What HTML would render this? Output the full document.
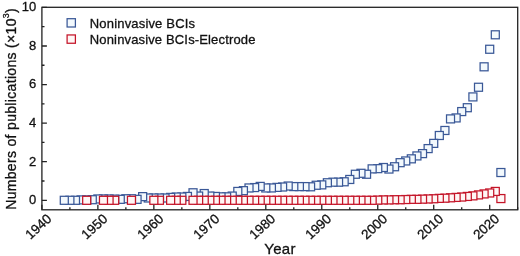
<!DOCTYPE html>
<html><head><meta charset="utf-8"><style>
html,body{margin:0;padding:0;background:#fff;}
body{width:520px;height:256px;overflow:hidden;}
svg{display:block;filter:blur(0.25px);}
</style></head><body>
<svg width="520" height="256" viewBox="0 0 520 256">
<rect x="0" y="0" width="520" height="256" fill="#fff"/>
<g fill="#f3f9fd" stroke="#3a5897" stroke-width="1.25"><rect x="496.89" y="168.52" width="8.0" height="8.0"/><rect x="491.30" y="30.79" width="8.0" height="8.0"/><rect x="485.70" y="45.26" width="8.0" height="8.0"/><rect x="480.10" y="62.81" width="8.0" height="8.0"/><rect x="474.50" y="83.26" width="8.0" height="8.0"/><rect x="468.91" y="92.91" width="8.0" height="8.0"/><rect x="463.31" y="103.71" width="8.0" height="8.0"/><rect x="457.71" y="107.57" width="8.0" height="8.0"/><rect x="452.12" y="113.93" width="8.0" height="8.0"/><rect x="446.52" y="114.90" width="8.0" height="8.0"/><rect x="440.92" y="126.47" width="8.0" height="8.0"/><rect x="435.32" y="131.49" width="8.0" height="8.0"/><rect x="429.72" y="139.39" width="8.0" height="8.0"/><rect x="424.13" y="144.60" width="8.0" height="8.0"/><rect x="418.53" y="149.62" width="8.0" height="8.0"/><rect x="412.93" y="151.93" width="8.0" height="8.0"/><rect x="407.33" y="154.83" width="8.0" height="8.0"/><rect x="401.74" y="156.95" width="8.0" height="8.0"/><rect x="396.14" y="158.68" width="8.0" height="8.0"/><rect x="390.54" y="162.74" width="8.0" height="8.0"/><rect x="384.94" y="165.05" width="8.0" height="8.0"/><rect x="379.35" y="163.51" width="8.0" height="8.0"/><rect x="373.75" y="164.66" width="8.0" height="8.0"/><rect x="368.15" y="164.86" width="8.0" height="8.0"/><rect x="362.56" y="170.26" width="8.0" height="8.0"/><rect x="356.96" y="169.29" width="8.0" height="8.0"/><rect x="351.36" y="170.26" width="8.0" height="8.0"/><rect x="345.76" y="175.47" width="8.0" height="8.0"/><rect x="340.16" y="177.78" width="8.0" height="8.0"/><rect x="334.57" y="178.17" width="8.0" height="8.0"/><rect x="328.97" y="178.17" width="8.0" height="8.0"/><rect x="323.37" y="178.75" width="8.0" height="8.0"/><rect x="317.77" y="180.87" width="8.0" height="8.0"/><rect x="312.18" y="181.25" width="8.0" height="8.0"/><rect x="306.58" y="182.80" width="8.0" height="8.0"/><rect x="300.98" y="182.60" width="8.0" height="8.0"/><rect x="295.38" y="182.60" width="8.0" height="8.0"/><rect x="289.79" y="182.60" width="8.0" height="8.0"/><rect x="284.19" y="182.03" width="8.0" height="8.0"/><rect x="278.59" y="182.99" width="8.0" height="8.0"/><rect x="273.00" y="183.38" width="8.0" height="8.0"/><rect x="267.40" y="183.95" width="8.0" height="8.0"/><rect x="261.80" y="183.95" width="8.0" height="8.0"/><rect x="256.20" y="182.41" width="8.0" height="8.0"/><rect x="250.61" y="183.57" width="8.0" height="8.0"/><rect x="245.01" y="183.95" width="8.0" height="8.0"/><rect x="239.41" y="186.66" width="8.0" height="8.0"/><rect x="233.81" y="187.43" width="8.0" height="8.0"/><rect x="228.22" y="192.06" width="8.0" height="8.0"/><rect x="222.62" y="192.83" width="8.0" height="8.0"/><rect x="217.02" y="192.83" width="8.0" height="8.0"/><rect x="211.42" y="192.44" width="8.0" height="8.0"/><rect x="205.83" y="192.06" width="8.0" height="8.0"/><rect x="200.23" y="189.55" width="8.0" height="8.0"/><rect x="194.63" y="192.06" width="8.0" height="8.0"/><rect x="189.03" y="188.78" width="8.0" height="8.0"/><rect x="183.44" y="192.44" width="8.0" height="8.0"/><rect x="177.84" y="193.02" width="8.0" height="8.0"/><rect x="172.24" y="193.02" width="8.0" height="8.0"/><rect x="166.64" y="193.41" width="8.0" height="8.0"/><rect x="161.05" y="193.99" width="8.0" height="8.0"/><rect x="155.45" y="193.99" width="8.0" height="8.0"/><rect x="149.85" y="193.99" width="8.0" height="8.0"/><rect x="144.25" y="193.99" width="8.0" height="8.0"/><rect x="138.66" y="192.63" width="8.0" height="8.0"/><rect x="133.06" y="195.34" width="8.0" height="8.0"/><rect x="127.46" y="194.76" width="8.0" height="8.0"/><rect x="121.86" y="194.76" width="8.0" height="8.0"/><rect x="116.27" y="195.34" width="8.0" height="8.0"/><rect x="110.67" y="195.14" width="8.0" height="8.0"/><rect x="105.07" y="194.95" width="8.0" height="8.0"/><rect x="99.47" y="194.95" width="8.0" height="8.0"/><rect x="93.88" y="194.95" width="8.0" height="8.0"/><rect x="88.28" y="195.72" width="8.0" height="8.0"/><rect x="82.68" y="195.91" width="8.0" height="8.0"/><rect x="77.08" y="195.91" width="8.0" height="8.0"/><rect x="71.48" y="196.30" width="8.0" height="8.0"/><rect x="65.89" y="196.30" width="8.0" height="8.0"/><rect x="60.29" y="196.30" width="8.0" height="8.0"/></g>
<g fill="#fff6f5" stroke="#c41428" stroke-width="1.25"><rect x="496.89" y="194.56" width="8.0" height="8.0"/><rect x="491.30" y="187.43" width="8.0" height="8.0"/><rect x="485.70" y="188.97" width="8.0" height="8.0"/><rect x="480.10" y="189.93" width="8.0" height="8.0"/><rect x="474.50" y="190.90" width="8.0" height="8.0"/><rect x="468.91" y="191.86" width="8.0" height="8.0"/><rect x="463.31" y="192.44" width="8.0" height="8.0"/><rect x="457.71" y="193.02" width="8.0" height="8.0"/><rect x="452.12" y="193.41" width="8.0" height="8.0"/><rect x="446.52" y="193.79" width="8.0" height="8.0"/><rect x="440.92" y="194.18" width="8.0" height="8.0"/><rect x="435.32" y="194.37" width="8.0" height="8.0"/><rect x="429.72" y="194.76" width="8.0" height="8.0"/><rect x="424.13" y="194.95" width="8.0" height="8.0"/><rect x="418.53" y="195.14" width="8.0" height="8.0"/><rect x="412.93" y="195.34" width="8.0" height="8.0"/><rect x="407.33" y="195.34" width="8.0" height="8.0"/><rect x="401.74" y="195.53" width="8.0" height="8.0"/><rect x="396.14" y="195.72" width="8.0" height="8.0"/><rect x="390.54" y="195.72" width="8.0" height="8.0"/><rect x="384.94" y="195.91" width="8.0" height="8.0"/><rect x="379.35" y="195.91" width="8.0" height="8.0"/><rect x="373.75" y="196.11" width="8.0" height="8.0"/><rect x="368.15" y="196.30" width="8.0" height="8.0"/><rect x="362.56" y="196.30" width="8.0" height="8.0"/><rect x="356.96" y="196.30" width="8.0" height="8.0"/><rect x="351.36" y="196.30" width="8.0" height="8.0"/><rect x="345.76" y="196.30" width="8.0" height="8.0"/><rect x="340.16" y="196.30" width="8.0" height="8.0"/><rect x="334.57" y="196.30" width="8.0" height="8.0"/><rect x="328.97" y="196.30" width="8.0" height="8.0"/><rect x="323.37" y="196.30" width="8.0" height="8.0"/><rect x="317.77" y="196.30" width="8.0" height="8.0"/><rect x="312.18" y="196.30" width="8.0" height="8.0"/><rect x="306.58" y="196.30" width="8.0" height="8.0"/><rect x="300.98" y="196.30" width="8.0" height="8.0"/><rect x="295.38" y="196.30" width="8.0" height="8.0"/><rect x="289.79" y="196.30" width="8.0" height="8.0"/><rect x="284.19" y="196.30" width="8.0" height="8.0"/><rect x="278.59" y="196.30" width="8.0" height="8.0"/><rect x="273.00" y="196.30" width="8.0" height="8.0"/><rect x="267.40" y="196.30" width="8.0" height="8.0"/><rect x="261.80" y="196.30" width="8.0" height="8.0"/><rect x="256.20" y="196.30" width="8.0" height="8.0"/><rect x="250.61" y="196.30" width="8.0" height="8.0"/><rect x="245.01" y="196.30" width="8.0" height="8.0"/><rect x="239.41" y="196.30" width="8.0" height="8.0"/><rect x="233.81" y="196.30" width="8.0" height="8.0"/><rect x="228.22" y="196.30" width="8.0" height="8.0"/><rect x="222.62" y="196.30" width="8.0" height="8.0"/><rect x="217.02" y="196.30" width="8.0" height="8.0"/><rect x="211.42" y="196.30" width="8.0" height="8.0"/><rect x="205.83" y="196.30" width="8.0" height="8.0"/><rect x="200.23" y="196.30" width="8.0" height="8.0"/><rect x="194.63" y="196.30" width="8.0" height="8.0"/><rect x="189.03" y="196.30" width="8.0" height="8.0"/><rect x="177.84" y="196.30" width="8.0" height="8.0"/><rect x="172.24" y="196.30" width="8.0" height="8.0"/><rect x="166.64" y="196.30" width="8.0" height="8.0"/><rect x="155.45" y="196.30" width="8.0" height="8.0"/><rect x="149.85" y="196.30" width="8.0" height="8.0"/><rect x="127.46" y="196.30" width="8.0" height="8.0"/><rect x="110.67" y="196.30" width="8.0" height="8.0"/><rect x="105.07" y="196.30" width="8.0" height="8.0"/><rect x="99.47" y="196.30" width="8.0" height="8.0"/><rect x="82.68" y="196.30" width="8.0" height="8.0"/></g>
<rect x="41.9" y="7.3" width="475.80" height="202.50" fill="none" stroke="#222" stroke-width="1.3"/>
<path d="M41.90 200.30h5.0M41.90 181.01h2.6M41.90 161.72h5.0M41.90 142.43h2.6M41.90 123.14h5.0M41.90 103.85h2.6M41.90 84.56h5.0M41.90 65.27h2.6M41.90 45.98h5.0M41.90 26.69h2.6M41.90 7.40h5.0M41.90 209.80v-5.1M69.89 209.80v-2.6M97.88 209.80v-5.1M125.86 209.80v-2.6M153.85 209.80v-5.1M181.84 209.80v-2.6M209.83 209.80v-5.1M237.81 209.80v-2.6M265.80 209.80v-5.1M293.79 209.80v-2.6M321.77 209.80v-5.1M349.76 209.80v-2.6M377.75 209.80v-5.1M405.74 209.80v-2.6M433.72 209.80v-5.1M461.71 209.80v-2.6M489.70 209.80v-5.1M517.69 209.80v-2.6" stroke="#222" stroke-width="1.3" fill="none"/>
<g font-family="Liberation Sans, Arial, sans-serif" font-size="13" fill="#111" stroke="#111" stroke-width="0.3"><text x="36.2" y="204.10" text-anchor="end">0</text><text x="36.2" y="165.52" text-anchor="end">2</text><text x="36.2" y="126.94" text-anchor="end">4</text><text x="36.2" y="88.36" text-anchor="end">6</text><text x="36.2" y="49.78" text-anchor="end">8</text><text x="36.2" y="11.20" text-anchor="end">10</text></g>
<g font-family="Liberation Sans, Arial, sans-serif" font-size="13.4" fill="#111" stroke="#111" stroke-width="0.3"><text transform="translate(52.40 219.80) rotate(-43)" text-anchor="end">1940</text><text transform="translate(108.38 219.80) rotate(-43)" text-anchor="end">1950</text><text transform="translate(164.35 219.80) rotate(-43)" text-anchor="end">1960</text><text transform="translate(220.33 219.80) rotate(-43)" text-anchor="end">1970</text><text transform="translate(276.30 219.80) rotate(-43)" text-anchor="end">1980</text><text transform="translate(332.27 219.80) rotate(-43)" text-anchor="end">1990</text><text transform="translate(388.25 219.80) rotate(-43)" text-anchor="end">2000</text><text transform="translate(444.22 219.80) rotate(-43)" text-anchor="end">2010</text><text transform="translate(500.20 219.80) rotate(-43)" text-anchor="end">2020</text></g>
<text x="264.3" y="253.6" textLength="31.2" lengthAdjust="spacing" font-family="Liberation Sans, Arial, sans-serif" font-size="15" fill="#111" stroke="#111" stroke-width="0.3">Year</text>
<text transform="translate(15.7 209.8) rotate(-90)" font-family="Liberation Sans, Arial, sans-serif" font-size="14" letter-spacing="0.325" fill="#111" stroke="#111" stroke-width="0.3">Numbers of publications (×10<tspan dy="-6.8" font-size="8.8">3</tspan><tspan dy="6.8">)</tspan></text>
<rect x="67.10" y="18.70" width="8.3" height="8.3" fill="#f3f9fd" stroke="#3a5897" stroke-width="1.25"/>
<rect x="67.10" y="34.95" width="8.3" height="8.3" fill="#fff6f5" stroke="#c41428" stroke-width="1.25"/>
<g font-family="Liberation Sans, Arial, sans-serif" font-size="13" fill="#111" stroke="#111" stroke-width="0.3"><text x="89.8" y="27.6" textLength="105.2" lengthAdjust="spacing">Noninvasive BCIs</text><text x="89.8" y="43.6" textLength="165.6" lengthAdjust="spacing">Noninvasive BCIs-Electrode</text></g>
</svg>
</body></html>
